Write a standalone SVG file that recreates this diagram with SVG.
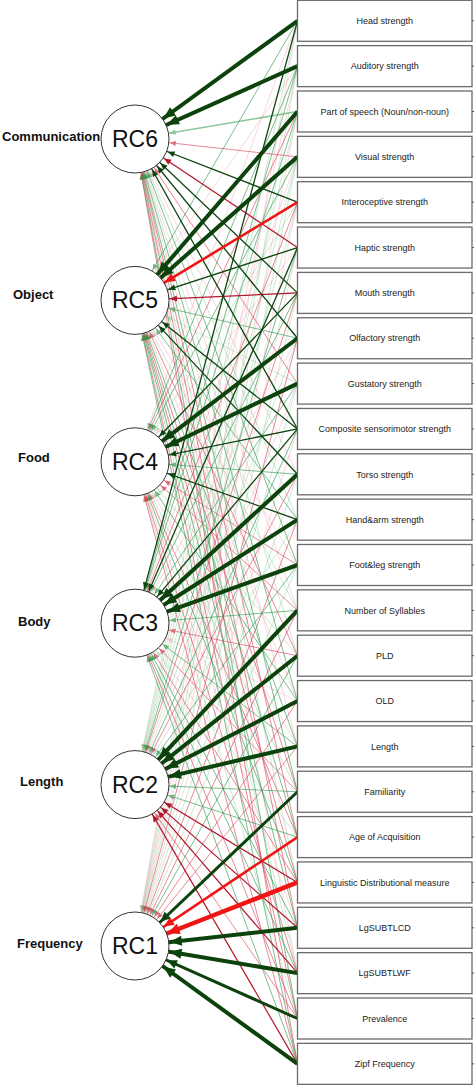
<svg xmlns="http://www.w3.org/2000/svg" width="474" height="1085" viewBox="0 0 474 1085">
<style>
line{fill:none}
.G4{stroke:#0c420c;stroke-width:4;marker-end:url(#aG4)}
.G3{stroke:#0c420c;stroke-width:3;marker-end:url(#aG3)}
.G2{stroke:#0d440f;stroke-width:1.3;marker-end:url(#aG2)}
.g1{stroke:#2f9a4c;stroke-width:0.9;opacity:.7;marker-end:url(#ag1)}
.g0{stroke:#56b86e;stroke-width:0.8;opacity:.38;marker-end:url(#ag0)}
.R4{stroke:#f01515;stroke-width:4.5;marker-end:url(#aR4)}
.R3{stroke:#f01515;stroke-width:2.6;marker-end:url(#aR3)}
.R2{stroke:#b3172b;stroke-width:1.2;marker-end:url(#aR2)}
.r1{stroke:#d43048;stroke-width:0.8;opacity:.7;marker-end:url(#ar1)}
.r0{stroke:#ee8090;stroke-width:0.8;opacity:.38;marker-end:url(#ar0)}
.w{stroke-width:1.6;opacity:.55}
.box{fill:#fff;stroke:#6b6b6b;stroke-width:1.3}
.tick{stroke:#555;stroke-width:1}
.bt{font-family:"Liberation Sans",Arial,sans-serif;font-size:9px;fill:#222;text-anchor:middle}
.rc{fill:#fff;stroke:#333;stroke-width:1}
.rt{font-family:"Liberation Sans",Arial,sans-serif;font-size:23px;fill:#111;text-anchor:middle}
.lb{font-family:"Liberation Sans",Arial,sans-serif;font-size:13px;font-weight:bold;fill:#111}
</style>
<defs>
<marker id="aG4" markerUnits="userSpaceOnUse" orient="auto" markerWidth="1" markerHeight="1" overflow="visible" style="overflow:visible"><path d="M-35,0L-47,-5L-47,5Z" fill="#0c420c"/></marker>
<marker id="aG3" markerUnits="userSpaceOnUse" orient="auto" markerWidth="1" markerHeight="1" overflow="visible" style="overflow:visible"><path d="M-35,0L-45,-4.5L-45,4.5Z" fill="#0c420c"/></marker>
<marker id="aG2" markerUnits="userSpaceOnUse" orient="auto" markerWidth="1" markerHeight="1" overflow="visible" style="overflow:visible"><path d="M-35,0L-42,-3L-42,3Z" fill="#0d440f"/></marker>
<marker id="ag1" markerUnits="userSpaceOnUse" orient="auto" markerWidth="1" markerHeight="1" overflow="visible" style="overflow:visible"><path d="M-35,0L-41,-2.6L-41,2.6Z" fill="#2f9a4c"/></marker>
<marker id="ag0" markerUnits="userSpaceOnUse" orient="auto" markerWidth="1" markerHeight="1" overflow="visible" style="overflow:visible"><path d="M-35,0L-41,-2.6L-41,2.6Z" fill="#56b86e"/></marker>
<marker id="aR4" markerUnits="userSpaceOnUse" orient="auto" markerWidth="1" markerHeight="1" overflow="visible" style="overflow:visible"><path d="M-35,0L-47,-5.5L-47,5.5Z" fill="#f01515"/></marker>
<marker id="aR3" markerUnits="userSpaceOnUse" orient="auto" markerWidth="1" markerHeight="1" overflow="visible" style="overflow:visible"><path d="M-35,0L-45,-4.5L-45,4.5Z" fill="#f01515"/></marker>
<marker id="aR2" markerUnits="userSpaceOnUse" orient="auto" markerWidth="1" markerHeight="1" overflow="visible" style="overflow:visible"><path d="M-35,0L-42,-3L-42,3Z" fill="#b3172b"/></marker>
<marker id="ar1" markerUnits="userSpaceOnUse" orient="auto" markerWidth="1" markerHeight="1" overflow="visible" style="overflow:visible"><path d="M-35,0L-41,-2.6L-41,2.6Z" fill="#d43048"/></marker>
<marker id="ar0" markerUnits="userSpaceOnUse" orient="auto" markerWidth="1" markerHeight="1" overflow="visible" style="overflow:visible"><path d="M-35,0L-41,-2.6L-41,2.6Z" fill="#ee8090"/></marker>
</defs>
<rect width="474" height="1085" fill="#fff"/>
<g id="connectors">
<g id="faint-negative">
<line class="r0" x1="297.5" y1="20.8" x2="135" y2="461.8"/>
<line class="r0" x1="297.5" y1="20.8" x2="135" y2="946"/>
<line class="r0" x1="297.5" y1="66.15" x2="135" y2="300.4"/>
<line class="r0" x1="297.5" y1="66.15" x2="135" y2="784.6"/>
<line class="r0" x1="297.5" y1="111.5" x2="135" y2="946"/>
<line class="r0" x1="297.5" y1="156.85" x2="135" y2="623.2"/>
<line class="r0" x1="297.5" y1="202.2" x2="135" y2="946"/>
<line class="r0" x1="297.5" y1="247.55" x2="135" y2="461.8"/>
<line class="r0" x1="297.5" y1="247.55" x2="135" y2="946"/>
<line class="r0" x1="297.5" y1="338.25" x2="135" y2="623.2"/>
<line class="r0" x1="297.5" y1="383.6" x2="135" y2="784.6"/>
<line class="r0" x1="297.5" y1="428.95" x2="135" y2="946"/>
<line class="r0" x1="297.5" y1="474.3" x2="135" y2="139"/>
<line class="r0" x1="297.5" y1="565" x2="135" y2="300.4"/>
<line class="r0" x1="297.5" y1="610.35" x2="135" y2="139"/>
<line class="r0" x1="297.5" y1="701.05" x2="135" y2="300.4"/>
<line class="r0" x1="297.5" y1="701.05" x2="135" y2="623.2"/>
<line class="r0" x1="297.5" y1="746.4" x2="135" y2="139"/>
<line class="r0" x1="297.5" y1="746.4" x2="135" y2="461.8"/>
<line class="r0" x1="297.5" y1="927.8" x2="135" y2="461.8"/>
<line class="r0" x1="297.5" y1="973.15" x2="135" y2="139"/>
</g>
<g id="faint-positive">
<line class="g0" x1="297.5" y1="20.8" x2="135" y2="784.6"/>
<line class="g0" x1="297.5" y1="66.15" x2="135" y2="946"/>
<line class="g0" x1="297.5" y1="111.5" x2="135" y2="784.6"/>
<line class="g0" x1="297.5" y1="156.85" x2="135" y2="784.6"/>
<line class="g0" x1="297.5" y1="156.85" x2="135" y2="946"/>
<line class="g0" x1="297.5" y1="202.2" x2="135" y2="461.8"/>
<line class="g0" x1="297.5" y1="202.2" x2="135" y2="784.6"/>
<line class="g0" x1="297.5" y1="292.9" x2="135" y2="946"/>
<line class="g0" x1="297.5" y1="338.25" x2="135" y2="784.6"/>
<line class="g0" x1="297.5" y1="383.6" x2="135" y2="300.4"/>
<line class="g0" x1="297.5" y1="383.6" x2="135" y2="946"/>
<line class="g0" x1="297.5" y1="474.3" x2="135" y2="946"/>
<line class="g0" x1="297.5" y1="519.65" x2="135" y2="139"/>
<line class="g0" x1="297.5" y1="519.65" x2="135" y2="784.6"/>
<line class="g0" x1="297.5" y1="565" x2="135" y2="946"/>
<line class="g0" x1="297.5" y1="610.35" x2="135" y2="300.4"/>
<line class="g0" x1="297.5" y1="655.7" x2="135" y2="139"/>
<line class="g0" x1="297.5" y1="655.7" x2="135" y2="461.8"/>
<line class="g0" x1="297.5" y1="791.75" x2="135" y2="461.8"/>
<line class="g0" x1="297.5" y1="837.1" x2="135" y2="623.2"/>
<line class="g0" x1="297.5" y1="882.45" x2="135" y2="139"/>
<line class="g0" x1="297.5" y1="973.15" x2="135" y2="300.4"/>
<line class="g0" x1="297.5" y1="1018.5" x2="135" y2="461.8"/>
</g>
<g id="weak-negative">
<line class="r1" x1="297.5" y1="111.5" x2="135" y2="461.8"/>
<line class="r1" x1="297.5" y1="156.85" x2="135" y2="139"/>
<line class="r1" x1="297.5" y1="202.2" x2="135" y2="623.2"/>
<line class="r1" x1="297.5" y1="292.9" x2="135" y2="784.6"/>
<line class="r1" x1="297.5" y1="338.25" x2="135" y2="946"/>
<line class="r1" x1="297.5" y1="383.6" x2="135" y2="139"/>
<line class="r1" x1="297.5" y1="474.3" x2="135" y2="784.6"/>
<line class="r1" x1="297.5" y1="519.65" x2="135" y2="946"/>
<line class="r1" x1="297.5" y1="565" x2="135" y2="461.8"/>
<line class="r1" x1="297.5" y1="610.35" x2="135" y2="461.8"/>
<line class="r1" x1="297.5" y1="610.35" x2="135" y2="946"/>
<line class="r1" x1="297.5" y1="655.7" x2="135" y2="300.4"/>
<line class="r1" x1="297.5" y1="655.7" x2="135" y2="623.2"/>
<line class="r1" x1="297.5" y1="701.05" x2="135" y2="946"/>
<line class="r1" x1="297.5" y1="746.4" x2="135" y2="946"/>
<line class="r1" x1="297.5" y1="791.75" x2="135" y2="300.4"/>
<line class="r1" x1="297.5" y1="791.75" x2="135" y2="623.2"/>
<line class="r1" x1="297.5" y1="837.1" x2="135" y2="139"/>
<line class="r1" x1="297.5" y1="837.1" x2="135" y2="461.8"/>
<line class="r1" x1="297.5" y1="882.45" x2="135" y2="300.4"/>
<line class="r1" x1="297.5" y1="882.45" x2="135" y2="623.2"/>
<line class="r1" x1="297.5" y1="927.8" x2="135" y2="139"/>
<line class="r1" x1="297.5" y1="973.15" x2="135" y2="461.8"/>
<line class="r1" x1="297.5" y1="1018.5" x2="135" y2="300.4"/>
<line class="r1" x1="297.5" y1="1018.5" x2="135" y2="623.2"/>
<line class="r1" x1="297.5" y1="1018.5" x2="135" y2="784.6"/>
<line class="r1" x1="297.5" y1="1063.85" x2="135" y2="139"/>
<line class="r1" x1="297.5" y1="1063.85" x2="135" y2="461.8"/>
</g>
<g id="weak-positive">
<line class="g1" x1="297.5" y1="20.8" x2="135" y2="300.4"/>
<line class="g1" x1="297.5" y1="66.15" x2="135" y2="461.8"/>
<line class="g1" x1="297.5" y1="66.15" x2="135" y2="623.2"/>
<line class="g1 w" x1="297.5" y1="111.5" x2="135" y2="139"/>
<line class="g1" x1="297.5" y1="111.5" x2="135" y2="623.2"/>
<line class="g1" x1="297.5" y1="156.85" x2="135" y2="461.8"/>
<line class="g1" x1="297.5" y1="247.55" x2="135" y2="784.6"/>
<line class="g1" x1="297.5" y1="292.9" x2="135" y2="623.2"/>
<line class="g1" x1="297.5" y1="338.25" x2="135" y2="300.4"/>
<line class="g1" x1="297.5" y1="383.6" x2="135" y2="623.2"/>
<line class="g1" x1="297.5" y1="428.95" x2="135" y2="784.6"/>
<line class="g1" x1="297.5" y1="474.3" x2="135" y2="461.8"/>
<line class="g1" x1="297.5" y1="519.65" x2="135" y2="300.4"/>
<line class="g1" x1="297.5" y1="565" x2="135" y2="139"/>
<line class="g1" x1="297.5" y1="565" x2="135" y2="784.6"/>
<line class="g1" x1="297.5" y1="610.35" x2="135" y2="623.2"/>
<line class="g1" x1="297.5" y1="655.7" x2="135" y2="946"/>
<line class="g1" x1="297.5" y1="701.05" x2="135" y2="139"/>
<line class="g1" x1="297.5" y1="701.05" x2="135" y2="461.8"/>
<line class="g1" x1="297.5" y1="746.4" x2="135" y2="300.4"/>
<line class="g1" x1="297.5" y1="746.4" x2="135" y2="623.2"/>
<line class="g1" x1="297.5" y1="791.75" x2="135" y2="139"/>
<line class="g1" x1="297.5" y1="791.75" x2="135" y2="784.6"/>
<line class="g1" x1="297.5" y1="837.1" x2="135" y2="300.4"/>
<line class="g1" x1="297.5" y1="837.1" x2="135" y2="784.6"/>
<line class="g1" x1="297.5" y1="882.45" x2="135" y2="461.8"/>
<line class="g1" x1="297.5" y1="927.8" x2="135" y2="300.4"/>
<line class="g1" x1="297.5" y1="927.8" x2="135" y2="623.2"/>
<line class="g1" x1="297.5" y1="973.15" x2="135" y2="623.2"/>
<line class="g1" x1="297.5" y1="1018.5" x2="135" y2="139"/>
<line class="g1" x1="297.5" y1="1063.85" x2="135" y2="300.4"/>
<line class="g1" x1="297.5" y1="1063.85" x2="135" y2="623.2"/>
</g>
<g id="medium">
<line class="R2" x1="297.5" y1="247.55" x2="135" y2="139"/>
<line class="R2" x1="297.5" y1="292.9" x2="135" y2="300.4"/>
<line class="R2" x1="297.5" y1="882.45" x2="135" y2="784.6"/>
<line class="R2" x1="297.5" y1="927.8" x2="135" y2="784.6"/>
<line class="R2" x1="297.5" y1="973.15" x2="135" y2="784.6"/>
<line class="R2" x1="297.5" y1="1063.85" x2="135" y2="784.6"/>
<line class="G2" x1="297.5" y1="20.8" x2="135" y2="623.2"/>
<line class="G2" x1="297.5" y1="202.2" x2="135" y2="139"/>
<line class="G2" x1="297.5" y1="247.55" x2="135" y2="300.4"/>
<line class="G2" x1="297.5" y1="247.55" x2="135" y2="623.2"/>
<line class="G2" x1="297.5" y1="292.9" x2="135" y2="139"/>
<line class="G2" x1="297.5" y1="292.9" x2="135" y2="461.8"/>
<line class="G2" x1="297.5" y1="338.25" x2="135" y2="139"/>
<line class="G2" x1="297.5" y1="428.95" x2="135" y2="139"/>
<line class="G2" x1="297.5" y1="428.95" x2="135" y2="300.4"/>
<line class="G2" x1="297.5" y1="428.95" x2="135" y2="461.8"/>
<line class="G2" x1="297.5" y1="428.95" x2="135" y2="623.2"/>
<line class="G2" x1="297.5" y1="474.3" x2="135" y2="300.4"/>
<line class="G2" x1="297.5" y1="519.65" x2="135" y2="461.8"/>
</g>
<g id="strong">
<line class="R3" x1="297.5" y1="202.2" x2="135" y2="300.4"/>
<line class="R3" x1="297.5" y1="837.1" x2="135" y2="946"/>
<line class="G3" x1="297.5" y1="791.75" x2="135" y2="946"/>
<line class="G3" x1="297.5" y1="1018.5" x2="135" y2="946"/>
<line class="R4" x1="297.5" y1="882.45" x2="135" y2="946"/>
<line class="G4" x1="297.5" y1="20.8" x2="135" y2="139"/>
<line class="G4" x1="297.5" y1="66.15" x2="135" y2="139"/>
<line class="G4" x1="297.5" y1="111.5" x2="135" y2="300.4"/>
<line class="G4" x1="297.5" y1="156.85" x2="135" y2="300.4"/>
<line class="G4" x1="297.5" y1="338.25" x2="135" y2="461.8"/>
<line class="G4" x1="297.5" y1="383.6" x2="135" y2="461.8"/>
<line class="G4" x1="297.5" y1="474.3" x2="135" y2="623.2"/>
<line class="G4" x1="297.5" y1="519.65" x2="135" y2="623.2"/>
<line class="G4" x1="297.5" y1="565" x2="135" y2="623.2"/>
<line class="G4" x1="297.5" y1="610.35" x2="135" y2="784.6"/>
<line class="G4" x1="297.5" y1="655.7" x2="135" y2="784.6"/>
<line class="G4" x1="297.5" y1="701.05" x2="135" y2="784.6"/>
<line class="G4" x1="297.5" y1="746.4" x2="135" y2="784.6"/>
<line class="G4" x1="297.5" y1="927.8" x2="135" y2="946"/>
<line class="G4" x1="297.5" y1="973.15" x2="135" y2="946"/>
<line class="G4" x1="297.5" y1="1063.85" x2="135" y2="946"/>
</g>
</g>
<g id="factors">
<g id="RC6"><circle class="rc" cx="135" cy="139" r="34"/><text class="rt" x="135" y="147">RC6</text><text class="lb" x="2" y="140.5">Communication</text></g>
<g id="RC5"><circle class="rc" cx="135" cy="300.4" r="34"/><text class="rt" x="135" y="308.4">RC5</text><text class="lb" x="13" y="298.5">Object</text></g>
<g id="RC4"><circle class="rc" cx="135" cy="461.8" r="34"/><text class="rt" x="135" y="469.8">RC4</text><text class="lb" x="18" y="462">Food</text></g>
<g id="RC3"><circle class="rc" cx="135" cy="623.2" r="34"/><text class="rt" x="135" y="631.2">RC3</text><text class="lb" x="18" y="626">Body</text></g>
<g id="RC2"><circle class="rc" cx="135" cy="784.6" r="34"/><text class="rt" x="135" y="792.6">RC2</text><text class="lb" x="20" y="786">Length</text></g>
<g id="RC1"><circle class="rc" cx="135" cy="946" r="34"/><text class="rt" x="135" y="954">RC1</text><text class="lb" x="17" y="947.5">Frequency</text></g>
</g>
<g id="variables">
<g id="v-head"><rect class="box" x="297.5" y="0.3" width="174.5" height="41"/><line class="tick" x1="472" y1="20.8" x2="474" y2="20.8"/><text class="bt" x="384.7" y="24">Head strength</text></g>
<g id="v-auditory"><rect class="box" x="297.5" y="45.65" width="174.5" height="41"/><line class="tick" x1="472" y1="66.15" x2="474" y2="66.15"/><text class="bt" x="384.7" y="69.3">Auditory strength</text></g>
<g id="v-pos"><rect class="box" x="297.5" y="91" width="174.5" height="41"/><line class="tick" x1="472" y1="111.5" x2="474" y2="111.5"/><text class="bt" x="384.7" y="114.7">Part of speech (Noun/non-noun)</text></g>
<g id="v-visual"><rect class="box" x="297.5" y="136.35" width="174.5" height="41"/><line class="tick" x1="472" y1="156.85" x2="474" y2="156.85"/><text class="bt" x="384.7" y="160">Visual strength</text></g>
<g id="v-interoceptive"><rect class="box" x="297.5" y="181.7" width="174.5" height="41"/><line class="tick" x1="472" y1="202.2" x2="474" y2="202.2"/><text class="bt" x="384.7" y="205.4">Interoceptive strength</text></g>
<g id="v-haptic"><rect class="box" x="297.5" y="227.05" width="174.5" height="41"/><line class="tick" x1="472" y1="247.55" x2="474" y2="247.55"/><text class="bt" x="384.7" y="250.7">Haptic strength</text></g>
<g id="v-mouth"><rect class="box" x="297.5" y="272.4" width="174.5" height="41"/><line class="tick" x1="472" y1="292.9" x2="474" y2="292.9"/><text class="bt" x="384.7" y="296.1">Mouth strength</text></g>
<g id="v-olfactory"><rect class="box" x="297.5" y="317.75" width="174.5" height="41"/><line class="tick" x1="472" y1="338.25" x2="474" y2="338.25"/><text class="bt" x="384.7" y="341.4">Olfactory strength</text></g>
<g id="v-gustatory"><rect class="box" x="297.5" y="363.1" width="174.5" height="41"/><line class="tick" x1="472" y1="383.6" x2="474" y2="383.6"/><text class="bt" x="384.7" y="386.8">Gustatory strength</text></g>
<g id="v-composite"><rect class="box" x="297.5" y="408.45" width="174.5" height="41"/><line class="tick" x1="472" y1="428.95" x2="474" y2="428.95"/><text class="bt" x="384.7" y="432.1">Composite sensorimotor strength</text></g>
<g id="v-torso"><rect class="box" x="297.5" y="453.8" width="174.5" height="41"/><line class="tick" x1="472" y1="474.3" x2="474" y2="474.3"/><text class="bt" x="384.7" y="477.5">Torso strength</text></g>
<g id="v-handarm"><rect class="box" x="297.5" y="499.15" width="174.5" height="41"/><line class="tick" x1="472" y1="519.65" x2="474" y2="519.65"/><text class="bt" x="384.7" y="522.8">Hand&amp;arm strength</text></g>
<g id="v-footleg"><rect class="box" x="297.5" y="544.5" width="174.5" height="41"/><line class="tick" x1="472" y1="565" x2="474" y2="565"/><text class="bt" x="384.7" y="568.2">Foot&amp;leg strength</text></g>
<g id="v-syllables"><rect class="box" x="297.5" y="589.85" width="174.5" height="41"/><line class="tick" x1="472" y1="610.35" x2="474" y2="610.35"/><text class="bt" x="384.7" y="613.5">Number of Syllables</text></g>
<g id="v-pld"><rect class="box" x="297.5" y="635.2" width="174.5" height="41"/><line class="tick" x1="472" y1="655.7" x2="474" y2="655.7"/><text class="bt" x="384.7" y="658.9">PLD</text></g>
<g id="v-old"><rect class="box" x="297.5" y="680.55" width="174.5" height="41"/><line class="tick" x1="472" y1="701.05" x2="474" y2="701.05"/><text class="bt" x="384.7" y="704.2">OLD</text></g>
<g id="v-length"><rect class="box" x="297.5" y="725.9" width="174.5" height="41"/><line class="tick" x1="472" y1="746.4" x2="474" y2="746.4"/><text class="bt" x="384.7" y="749.6">Length</text></g>
<g id="v-familiarity"><rect class="box" x="297.5" y="771.25" width="174.5" height="41"/><line class="tick" x1="472" y1="791.75" x2="474" y2="791.75"/><text class="bt" x="384.7" y="794.9">Familiarity</text></g>
<g id="v-aoa"><rect class="box" x="297.5" y="816.6" width="174.5" height="41"/><line class="tick" x1="472" y1="837.1" x2="474" y2="837.1"/><text class="bt" x="384.7" y="840.3">Age of Acquisition</text></g>
<g id="v-ldm"><rect class="box" x="297.5" y="861.95" width="174.5" height="41"/><line class="tick" x1="472" y1="882.45" x2="474" y2="882.45"/><text class="bt" x="384.7" y="885.6">Linguistic Distributional measure</text></g>
<g id="v-lgsubtlcd"><rect class="box" x="297.5" y="907.3" width="174.5" height="41"/><line class="tick" x1="472" y1="927.8" x2="474" y2="927.8"/><text class="bt" x="384.7" y="931">LgSUBTLCD</text></g>
<g id="v-lgsubtlwf"><rect class="box" x="297.5" y="952.65" width="174.5" height="41"/><line class="tick" x1="472" y1="973.15" x2="474" y2="973.15"/><text class="bt" x="384.7" y="976.3">LgSUBTLWF</text></g>
<g id="v-prevalence"><rect class="box" x="297.5" y="998" width="174.5" height="41"/><line class="tick" x1="472" y1="1018.5" x2="474" y2="1018.5"/><text class="bt" x="384.7" y="1021.7">Prevalence</text></g>
<g id="v-zipf"><rect class="box" x="297.5" y="1043.35" width="174.5" height="41"/><line class="tick" x1="472" y1="1063.85" x2="474" y2="1063.85"/><text class="bt" x="384.7" y="1067">Zipf Frequency</text></g>
</g>
</svg>
